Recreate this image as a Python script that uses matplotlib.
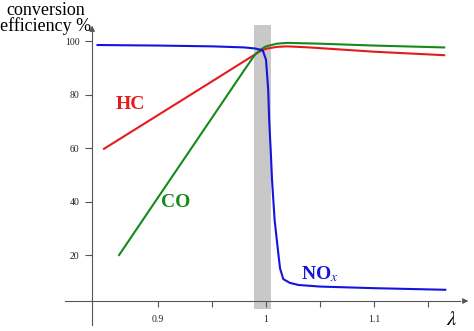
import numpy as np
import matplotlib
matplotlib.use("Agg")
import matplotlib.pyplot as plt

# lambda values and conversion efficiency (%)
hc_lam = [0.85, 0.90, 0.95, 0.98, 0.99, 0.995, 1.0, 1.01, 1.02, 1.04, 1.07, 1.10, 1.13, 1.165]
hc_eff = [59.7, 72.3, 84.9, 92.5, 95.0, 96.3, 97.1, 97.8, 98.0, 97.6, 96.8, 96.0, 95.4, 94.7]

co_lam = [0.864, 0.90, 0.95, 0.98, 0.99, 0.995, 1.0, 1.01, 1.02, 1.05, 1.10, 1.165]
co_eff = [20.0, 41.5, 71.3, 89.2, 95.0, 96.8, 98.0, 99.0, 99.3, 99.0, 98.3, 97.6]

nox_lam = [0.844, 0.90, 0.95, 0.98, 0.99, 0.997, 1.0, 1.002, 1.003, 1.0045, 1.0056, 1.008,
           1.011, 1.013, 1.016, 1.022, 1.03, 1.05, 1.10, 1.166]
nox_eff = [98.5, 98.3, 98.0, 97.6, 97.2, 96.5, 93.0, 82.0, 70.0, 58.0, 48.0, 33.0,
           22.0, 15.0, 11.0, 9.6, 8.8, 8.2, 7.6, 7.0]

window = (0.989, 1.005, 106)

xticks = [0.9, 0.95, 1.0, 1.05, 1.1, 1.15]
xlabels = ["0.9", "", "1", "", "1.1", ""]
yticks = [20, 40, 60, 80, 100]

plt.rcParams["font.family"] = ["Liberation Serif", "DejaVu Serif"]
plt.rcParams["mathtext.fontset"] = "stix"

fig = plt.figure(figsize=(4.74, 3.31), dpi=100)
ax = fig.add_axes([0, 0, 1, 1])
ax.set_xlim(0.7537, 1.1926)
ax.set_ylim(-8.41, 115.33)

c_blue = "#1414dc"
c_red = "#e41a1c"
c_green = "#16891a"
axc = "#555555"

ax.fill_between([window[0], window[1]], 0, window[2], color="#c8c8c8", lw=0, zorder=1)
ax.plot(hc_lam, hc_eff, color=c_red, lw=1.5, zorder=3)
ax.plot(co_lam, co_eff, color=c_green, lw=1.5, zorder=3)
ax.plot(nox_lam, nox_eff, color=c_blue, lw=1.5, zorder=4)

ax.text(0.874, 76.4, "HC", color=c_red, fontsize=14, fontweight="bold", ha="center", va="center")
ax.text(0.916, 39.5, "CO", color=c_green, fontsize=14, fontweight="bold", ha="center", va="center")
ax.text(1.050, 13.0, r"NO$_{x}$", color=c_blue, fontsize=14, fontweight="bold", ha="center", va="center")

# axes crossing near the lower left
for s in ["top", "right"]:
    ax.spines[s].set_visible(False)
ax.spines["left"].set_position(("data", 0.839))
ax.spines["bottom"].set_position(("data", 2.8))
ax.spines["left"].set_bounds(-6.2, 104)
ax.spines["bottom"].set_bounds(0.814, 1.18)
for s in ["left", "bottom"]:
    ax.spines[s].set_color(axc)
    ax.spines[s].set_linewidth(0.8)
ax.annotate("", xy=(1.19, 2.8), xytext=(1.179, 2.8),
            arrowprops=dict(arrowstyle="-|>", color=axc, lw=0.8, mutation_scale=8))
ax.annotate("", xy=(0.839, 106.8), xytext=(0.839, 103.5),
            arrowprops=dict(arrowstyle="-|>", color=axc, lw=0.8, mutation_scale=8))

ax.set_xticks(xticks)
ax.set_xticklabels(xlabels)
ax.set_yticks(yticks)
ax.tick_params(axis="both", colors=axc, labelcolor="#222222", labelsize=7, width=0.8)
ax.tick_params(axis="x", length=4, pad=6)
ax.tick_params(axis="y", length=5, pad=4)

fig.text(0.096, 0.994, "conversion\nefficiency %", fontsize=13, ha="center", va="top",
         linespacing=0.9)
fig.text(0.953, 0.033, r"$\lambda$", fontsize=15, ha="center", va="center")

fig.savefig("out.png", dpi=100)
